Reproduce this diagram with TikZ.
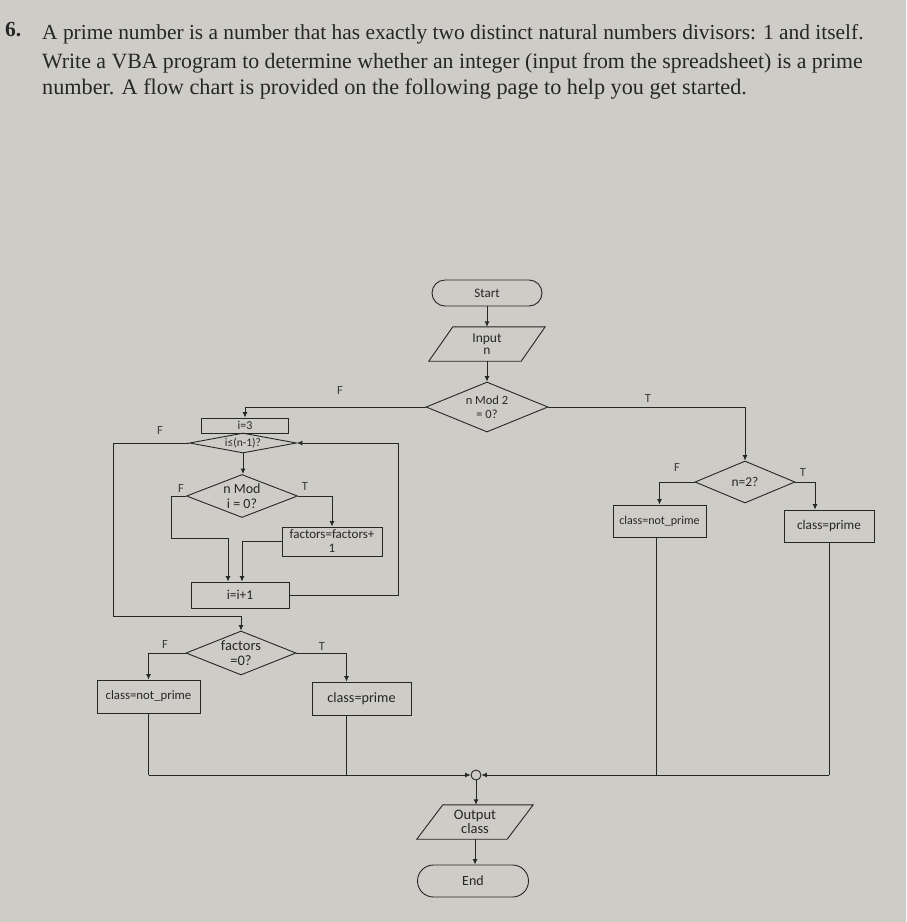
\documentclass[tikz,border=0pt]{standalone}
\usepackage{fontspec}
\setmainfont{Liberation Serif}
\newfontfamily\flow{Carlito}
\usetikzlibrary{shapes.geometric,arrows.meta,calc}
\definecolor{paper}{RGB}{206,204,199}
\definecolor{ink}{RGB}{38,38,38}
\definecolor{labink}{RGB}{60,60,60}
\newcommand{\fl}[1]{\flow\fontsize{#1}{#1}\selectfont}
\begin{document}
\begin{tikzpicture}[x=1pt,y=-1pt,
  ln/.style={draw=ink,line width=0.9pt},
  arr/.style={ln,-{Latex[length=5.5pt,width=5pt]}},
  pbox/.style={draw=ink,line width=0.9pt,rectangle,inner sep=0pt,text=ink,
    font=\fl{13},align=center},
  term/.style={pbox},
  dia/.style={draw=ink,line width=0.9pt,diamond,inner sep=0pt},
  dtext/.style={font=\fl{13},align=center,inner sep=0pt,text=ink},
  io/.style={rectangle,inner sep=0pt,draw=none,text=ink,
    font=\fl{13.5},align=center},
  lab/.style={font=\fl{12.5},text=labink,inner sep=0pt},
  title/.style={anchor=base west,inner sep=0pt,text=ink}
]
\fill[paper] (0,0) rectangle (906,922);
\useasboundingbox (0,0) rectangle (906,922);

% ---- title text
\node[title,font=\bfseries\fontsize{21.5}{24}\selectfont] (qn) at (5,36) {6.};
\node[title,font=\fontsize{21.4}{24}\selectfont] (t1) at (42,39) {A prime number is a number that has exactly two distinct natural numbers divisors: 1 and itself.};
\node[title,font=\fontsize{21.8}{24}\selectfont] (t2) at (42,68) {Write a VBA program to determine whether an integer (input from the spreadsheet) is a prime};
\node[title,font=\fontsize{22.2}{24}\selectfont] (t3) at (42,94) {number. A flow chart is provided on the following page to help you get started.};

% ---- top
\node[term,rounded corners=13pt,minimum width=110pt,minimum height=26pt,
  font=\fl{13}] (start) at (487,293) {Start};
\node[io,minimum width=92pt,minimum height=34pt,font=\fl{13.5}] (inp) at (487,344) {Input\\[-1pt]n};
\draw[ln] ([xshift=12pt]inp.north west) -- ([xshift=12pt]inp.north east)
  -- ([xshift=-12pt]inp.south east) -- ([xshift=-12pt]inp.south west) -- cycle;
\node[dia,minimum width=122pt,minimum height=50pt] (d1) at (487,407) {};
\node[dtext,font=\fl{12.5}] (d1t) at (487,407) {n Mod 2\\[1pt]= 0?};
\draw[arr] (start.south) -- (inp.north);
\draw[arr] (inp.south) -- (d1.north);

% ---- left loop
\node[pbox,minimum width=87pt,minimum height=15pt,font=\fl{12}] (i3) at (245,425.5) {i=3};
\node[dia,minimum width=107pt,minimum height=20pt] (dl) at (243,443) {};
\node[dtext,font=\fl{11.5}] (dlt) at (243,443.5) {i≤(n-1)?};
\node[dia,minimum width=111pt,minimum height=43pt] (d3) at (242,496) {};
\node[dtext,font=\fl{14}] (d3t) at (242,496) {n Mod\\[1pt]i = 0?};
\node[pbox,minimum width=100pt,minimum height=29pt,font=\fl{13}] (fac) at (332,541.5) {factors=factors+\\[1pt]1};
\node[pbox,minimum width=98pt,minimum height=26pt,font=\fl{13.5}] (iinc) at (240,595) {i=i+1};
\node[dia,minimum width=110pt,minimum height=44pt] (d4) at (241,653) {};
\node[dtext,font=\fl{14.5}] (d4t) at (241,653) {factors\\[1pt]=0?};
\node[pbox,minimum width=103pt,minimum height=33pt,font=\fl{12.8}] (np1) at (148.5,696.5) {class=not\_prime};
\node[pbox,minimum width=99pt,minimum height=33pt,font=\fl{14.2}] (p1) at (361.5,698.5) {class=prime};

\draw[arr] (d1.west) -| (i3.north);
\draw[arr] (dl.south) -- (dl.south |- d3.north);
\draw[arr] (dl.west) -| (113,616) -| (d4.north);
\draw[arr] (d3.west) -| (171,538) -| ([xshift=-12pt]iinc.north);
\draw[arr] (d3.east) -| (fac.north);
\draw[arr] (fac.west) -| ([xshift=2pt]iinc.north);
\draw[arr] (iinc.east) -| ($(dl.east)+(101.5,0)$) -- (dl.east);
\draw[arr] (d4.west) -| (np1.north);
\draw[arr] (d4.east) -| ([xshift=-15pt]p1.north);

% ---- right branch
\node[dia,minimum width=100pt,minimum height=42pt] (d2) at (745,482) {};
\node[dtext,font=\fl{13.5}] (d2t) at (745,482) {n=2?};
\node[pbox,minimum width=93pt,minimum height=32pt,font=\fl{12}] (np2) at (659.5,521) {class=not\_prime};
\node[pbox,minimum width=90pt,minimum height=32pt,font=\fl{13.3}] (p2) at (829,526) {class=prime};
\draw[arr] (d1.east) -| (d2.north);
\draw[arr] (d2.west) -| (np2.north);
\draw[arr] (d2.east) -| ([xshift=-14pt]p2.north);

% ---- labels
\node[lab] (lF1) at (340,390) {F};
\node[lab] (lT1) at (648,398) {T};
\node[lab] (lF2) at (160,430) {F};
\node[lab] (lF3) at (181,488) {F};
\node[lab] (lT3) at (305,486) {T};
\node[lab] (lF4) at (165,644) {F};
\node[lab] (lT4) at (322,646) {T};
\node[lab] (lF5) at (677,467) {F};
\node[lab] (lT5) at (803,472) {T};

% ---- bottom merge
\node[circle,draw=ink,line width=0.9pt,minimum size=10pt,inner sep=0pt] (jn) at (476,775) {};
\coordinate (bL) at (np1.south |- jn);
\coordinate (bR) at (p2.south |- jn);
\draw[ln] (np1.south) -- (bL);
\draw[ln] ([xshift=-15pt]p1.south) -- ([xshift=-15pt]p1.south |- jn);
\draw[ln] ([xshift=-3.5pt]np2.south) -- ([xshift=-3.5pt]np2.south |- jn);
\draw[ln] (p2.south) -- (bR);
\draw[arr] (bL) -- (jn.west);
\draw[arr] (bR) -- (jn.east);

\node[io,minimum width=90pt,minimum height=34pt,font=\fl{14.5}] (outp) at (475,822) {Output\\[-1pt]class};
\draw[ln] ([xshift=13pt]outp.north west) -- ([xshift=13pt]outp.north east)
  -- ([xshift=-13pt]outp.south east) -- ([xshift=-13pt]outp.south west) -- cycle;
\node[term,rounded corners=16pt,minimum width=111pt,minimum height=32pt,font=\fl{14}] (endn) at (473,881) {End};
\draw[arr] (jn.south) -- (jn.south |- outp.north);
\draw[arr] (outp.south) -- (outp.south |- endn.north);
\end{tikzpicture}
\end{document}
